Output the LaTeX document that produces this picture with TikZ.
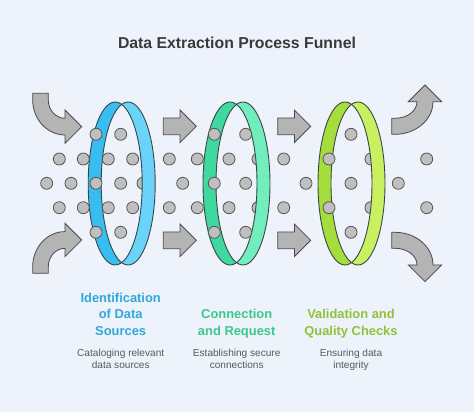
\documentclass[tikz,border=0pt]{standalone}
\usepackage{fontspec}
\setmainfont{Liberation Sans}
\definecolor{bgc}{HTML}{EEF2FB}
\definecolor{rAf}{HTML}{38BDF0}
\definecolor{rAb}{HTML}{6AD3FA}
\definecolor{rBf}{HTML}{3FD99F}
\definecolor{rBb}{HTML}{72EDBE}
\definecolor{rCf}{HTML}{A5DD3C}
\definecolor{rCb}{HTML}{C8F060}
\definecolor{ringline}{HTML}{3A4646}
\definecolor{arrfill}{HTML}{B4B4B4}
\definecolor{arrline}{HTML}{4A4A4A}
\definecolor{dotfill}{HTML}{BFBFBF}
\definecolor{dotline}{HTML}{555555}
\definecolor{labA}{HTML}{2EAAD8}
\definecolor{labB}{HTML}{3CC88E}
\definecolor{labC}{HTML}{8FC23A}
\definecolor{descc}{HTML}{555A60}
\definecolor{titlec}{HTML}{3A3A3A}
\newcommand\myring[4]{%
  % #1 name, #2 center x, #3 front colour, #4 back colour
  \begin{scope}
    \clip (#2-6.5,183.5) ellipse [x radius=27pt, y radius=81.5pt];
    \fill[#3, even odd rule] (#2-6.5,183.5) ellipse [x radius=27pt, y radius=81.5pt]
                             (#2+6.5,183.5) ellipse [x radius=27pt, y radius=81.5pt];
  \end{scope}
  \begin{scope}
    \clip (#2+6.5,183.5) ellipse [x radius=27pt, y radius=81.5pt];
    \fill[#4, even odd rule] (#2-6.5,183.5) ellipse [x radius=27pt, y radius=81.5pt]
                             (#2+6.5,183.5) ellipse [x radius=27pt, y radius=81.5pt];
  \end{scope}
  \draw[ringedge] (#2-6.5,183.5) ellipse [x radius=27pt, y radius=81.5pt];
  \draw[ringedge] (#2+6.5,183.5) ellipse [x radius=27pt, y radius=81.5pt];
  \coordinate (#1) at (#2,183.5);
}
\begin{document}
\begin{tikzpicture}[x=1pt,y=-1pt,
  ringedge/.style={draw=ringline, line width=0.9pt},
  grayarrow/.style={fill=arrfill, draw=arrline, line width=0.8pt, line join=miter},
  dotstyle/.style={circle, fill=dotfill, draw=dotline, line width=0.8pt, minimum size=12pt, inner sep=0pt},
  titlestyle/.style={font=\fontsize{15.8}{19}\selectfont\bfseries, text=titlec, inner sep=0pt},
  labelstyle/.style={font=\fontsize{12.9}{16.7}\selectfont\bfseries, align=center, inner sep=0pt},
  descstyle/.style={font=\fontsize{10.1}{12.7}\selectfont, text=descc, align=center, inner sep=0pt}]
\fill[bgc] (0,0) rectangle (474,412);
\useasboundingbox (0,0) rectangle (474,412);

\node[titlestyle] (title) at (237,43) {Data Extraction Process Funnel};

% curved arrows left
\draw[grayarrow] (32.7,93.3) -- (48.3,93.3) -- (48.3,100)
  .. controls (48.3,110.1) and (55.8,118.3) .. (65,118.3) -- (65,110) -- (81.7,126.7)
  -- (65,143.3) -- (65,135) .. controls (47.2,135) and (32.7,119.3) .. (32.7,100) -- cycle;
\begin{scope}[shift={(0,366.6)}, yscale=-1]
\draw[grayarrow] (32.7,93.3) -- (48.3,93.3) -- (48.3,100)
  .. controls (48.3,110.1) and (55.8,118.3) .. (65,118.3) -- (65,110) -- (81.7,126.7)
  -- (65,143.3) -- (65,135) .. controls (47.2,135) and (32.7,119.3) .. (32.7,100) -- cycle;
\end{scope}
% curved arrows right
\draw[grayarrow] (391.7,118.3) -- (395,118.3) .. controls (407.2,118.3) and (417,110.9) .. (417,101.7)
  -- (408.3,101.7) -- (425,85) -- (441.7,101.7) -- (433,101.7)
  .. controls (433,119.7) and (416,134.3) .. (395,134.3) -- (391.7,134.3) -- cycle;
\begin{scope}[shift={(0,366.6)}, yscale=-1]
\draw[grayarrow] (391.7,118.3) -- (395,118.3) .. controls (407.2,118.3) and (417,110.9) .. (417,101.7)
  -- (408.3,101.7) -- (425,85) -- (441.7,101.7) -- (433,101.7)
  .. controls (433,119.7) and (416,134.3) .. (395,134.3) -- (391.7,134.3) -- cycle;
\end{scope}
% straight arrows
\foreach \xa in {163.3, 277.7}{
  \foreach \ya in {126.3, 240.3}{
    \draw[grayarrow] (\xa,\ya-8.4) -- (\xa+16.7,\ya-8.4) -- (\xa+16.7,\ya-16.3) -- (\xa+33,\ya)
      -- (\xa+16.7,\ya+16.3) -- (\xa+16.7,\ya+8.4) -- (\xa,\ya+8.4) -- cycle;
  }
}

% dots partly hidden behind the back of the rings
\node[dotstyle] (h1) at (143,183.3) {};
\node[dotstyle] (h2) at (258,159) {};
\node[dotstyle] (h3) at (258,207.7) {};
\node[dotstyle] (h4) at (371,159) {};
\node[dotstyle] (h5) at (371,207.7) {};

% rings
\myring{ringA}{121.7}{rAf}{rAb}
\myring{ringB}{236.5}{rBf}{rBb}
\myring{ringC}{351.5}{rCf}{rCb}

% dots
\foreach \xd [count=\i] in {96, 120.7, 214.3, 245.7, 351}{
  \node[dotstyle] (ta\i) at (\xd,134.3) {};
  \node[dotstyle] (tb\i) at (\xd,232.3) {};
}
\foreach \xd [count=\i] in {59.3, 83.3, 108.3, 132.7, 169.3, 197.3, 229, 283.7, 329, 426.7}{
  \node[dotstyle] (ua\i) at (\xd,159) {};
  \node[dotstyle] (ub\i) at (\xd,207.7) {};
}
\foreach \xd [count=\i] in {46.7, 71, 96, 120.7, 182.7, 214.3, 245.7, 306, 351, 398.3}{
  \node[dotstyle] (m\i) at (\xd,183.3) {};
}

% labels
\node[labelstyle, text=labA] (labelA) at (120.7,314.3) {Identification\\of Data\\Sources};
\node[labelstyle, text=labB] (labelB) at (236.7,323.9) {Connection\\and Request};
\node[labelstyle, text=labC] (labelC) at (351,323.9) {Validation and\\Quality Checks};

\node[descstyle] (descA) at (120.7,359) {Cataloging relevant\\data sources};
\node[descstyle] (descB) at (236.7,359) {Establishing secure\\connections};
\node[descstyle] (descC) at (351,360) {Ensuring data\\integrity};
\end{tikzpicture}
\end{document}
